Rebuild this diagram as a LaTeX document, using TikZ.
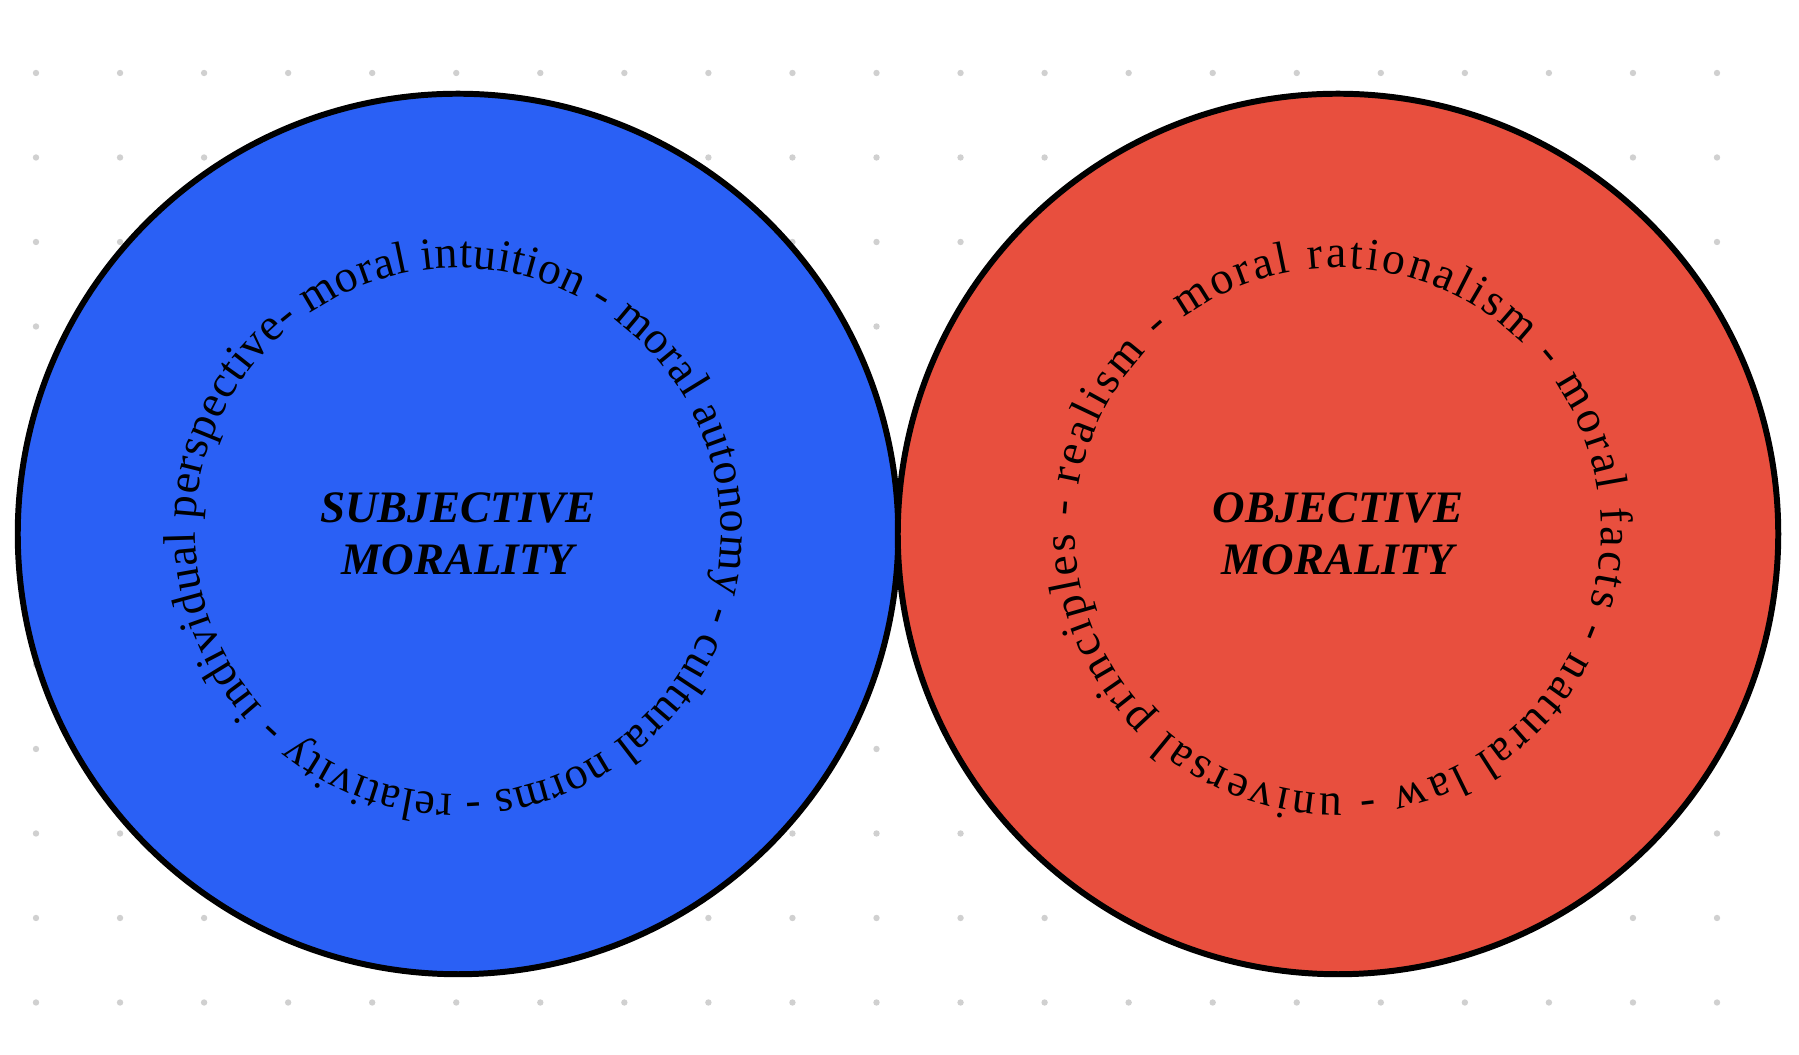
\documentclass[tikz,border=0pt]{standalone}
\usepackage{fontspec}
\setmainfont{Liberation Serif}
\usetikzlibrary{decorations.text}
\definecolor{subjblue}{HTML}{2A60F5}
\definecolor{objred}{HTML}{E84F3E}
\definecolor{dotgray}{HTML}{D0D0D0}
\newcommand{\ringfont}{\fontsize{13}{14}\selectfont}
\newcommand{\titlefont}{\fontsize{12.8}{14.6}\selectfont\bfseries\itshape}

\begin{document}
\begin{tikzpicture}[x=0.01cm,y=0.01cm,line width=1.7pt,
  ring/.style={circle,draw=black,inner sep=0pt,minimum size=8.8cm},
  title/.style={align=center,inner sep=0pt,font=\titlefont}]
\path[use as bounding box] (0,0) rectangle (1799,1055);
% dot grid
\foreach \i in {0,...,20} {\foreach \j in {0,...,11} {\fill[dotgray] ({36+84.05*\i},{982-84.5*\j}) circle (3.2);}}
% the two circles
\node[ring,fill=subjblue] (subj) at (458,521) {};
\node[ring,fill=objred] (obj) at (1338,521) {};
\coordinate (subjc) at ([yshift=0.03cm]subj.center);
\coordinate (objc) at ([yshift=0.03cm]obj.center);
\node[title] (subjtitle) at (subj.center) {SUBJECTIVE\\MORALITY};
\node[title] (objtitle) at (obj.center) {OBJECTIVE\\MORALITY};
% text round the circles
\path[decorate,decoration={text along path,text align={fit to path},
  text={|\ringfont|individual perspective- moral intuition - moral autonomy - cultural norms - relativity -}}]
  (subjc) ++(222:263) arc[start angle=222,end angle=-134.5,radius=263];
\path[decorate,decoration={text along path,text align={fit to path},
  text={|\ringfont|realism - moral rationalism - moral facts - natural law - universal principles -}}]
  (objc) ++(170:263) arc[start angle=170,end angle=-186.5,radius=263];
\end{tikzpicture}
\end{document}
